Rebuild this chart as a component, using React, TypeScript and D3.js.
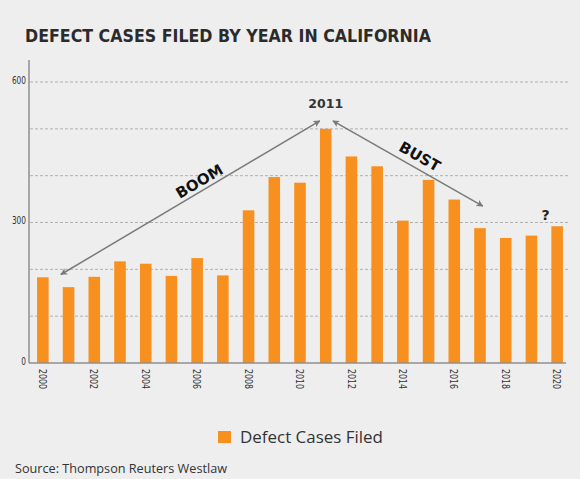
import React, { useEffect, useRef } from 'react';
import * as d3 from 'd3';

const years = d3.range(2000, 2021).map(String);
const cases = [183, 162, 184, 217, 212, 186, 224, 187, 326, 397, 385, 500, 441, 420, 304, 391, 349, 288, 267, 272, 292];
const yTicks = [0, 300, 600];
const gridValues = [100, 200, 300, 400, 500, 600];
const xTickYears = years.filter((_, i) => i % 2 === 0);

// annotation anchors, in data space (year, cases)
const boomArrow = [[2010.77, 517], [2000.7, 189]];
const bustArrow = [[2011.28, 517], [2017.11, 335]];

const W = 580;
const H = 479;
const ORANGE = '#f7901e';
const narrow = '"DejaVu Sans Condensed", "Liberation Sans Narrow", sans-serif';

const App: React.FC = () => {
  const axisRef = useRef<SVGGElement>(null);

  const x = d3.scaleBand<string>()
    .domain(years)
    .range([30, 570])
    .paddingInner(0.55)
    .paddingOuter(0.275);

  const y = d3.scaleLinear().domain([0, 600]).range([363, 82]);

  const c0 = (x('2000') || 0) + x.bandwidth() / 2;
  const c1 = (x('2020') || 0) + x.bandwidth() / 2;
  const xs = d3.scaleLinear().domain([2000, 2020]).range([c0, c1]);

  useEffect(() => {
    if (!axisRef.current) return;
    const g = d3.select(axisRef.current);
    g.selectAll('*').remove();

    // narrow digits: about 4.7px per digit
    g.append('g')
      .attr('transform', 'translate(29,0)')
      .call(d3.axisLeft(y).tickValues(yTicks).tickSize(0).tickPadding(3))
      .call(s => s.select('.domain').remove())
      .selectAll('text')
      .attr('textLength', (d: any) => String(d).length * 4.7)
      .attr('lengthAdjust', 'spacingAndGlyphs')
      .attr('dy', '0.1em')
      .style('font-family', narrow)
      .style('font-size', '11px')
      .style('fill', '#333');

    g.append('g')
      .attr('transform', 'translate(0,369)')
      .call(d3.axisBottom(x).tickValues(xTickYears).tickSize(0).tickPadding(0))
      .call(s => s.select('.domain').remove())
      .selectAll('text')
      .attr('transform', 'rotate(90)')
      .attr('x', 0)
      .attr('y', 0)
      .attr('dy', '0.35em')
      .attr('textLength', 20)
      .attr('lengthAdjust', 'spacingAndGlyphs')
      .style('text-anchor', 'start')
      .style('font-family', narrow)
      .style('font-size', '11px')
      .style('fill', '#333');
  }, []);

  const line = (pts: number[][]) => ({
    x1: xs(pts[0][0]), y1: y(pts[0][1]), x2: xs(pts[1][0]), y2: y(pts[1][1]),
  });
  const boom = line(boomArrow);
  const bust = line(bustArrow);

  return (
    <svg width={W} height={H} style={{ position: 'absolute', left: 0, top: 0, display: 'block' }}>
      <defs>
        <marker id="head" viewBox="0 0 10 10" refX="9" refY="5" markerWidth="7" markerHeight="7"
          markerUnits="userSpaceOnUse" orient="auto-start-reverse">
          <path d="M0,0 L10,5 L0,10 L2.5,5 Z" fill="#7a7a7a" />
        </marker>
      </defs>
      <rect width={W} height={H} fill="#eeeeef" />

      <text x={25} y={41.7} fontFamily='"DejaVu Sans", sans-serif' fontWeight="bold" fontSize={17}
        fill="#2b2b2b" textLength={406} lengthAdjust="spacingAndGlyphs">
        DEFECT CASES FILED BY YEAR IN CALIFORNIA
      </text>

      {/* gridlines */}
      {gridValues.map(v => (
        <line key={v} x1={30} x2={570} y1={y(v)} y2={y(v)} stroke="#b0b0b0" strokeWidth={1}
          strokeDasharray="3,2" />
      ))}

      {/* bars */}
      {cases.map((v, i) => (
        <rect key={years[i]} x={x(years[i])} y={y(v)} width={x.bandwidth()} height={y(0) - y(v)}
          fill={ORANGE} />
      ))}

      {/* axes lines */}
      <line x1={29} x2={29} y1={60} y2={y(0)} stroke="#8f8f8f" strokeWidth={1.5} />
      <line x1={29} x2={566} y1={y(0)} y2={y(0)} stroke="#8f8f8f" strokeWidth={1.5} />
      <g ref={axisRef} />

      {/* annotations */}
      <line {...boom} stroke="#7a7a7a" strokeWidth={1.5} markerStart="url(#head)" markerEnd="url(#head)" />
      <line {...bust} stroke="#7a7a7a" strokeWidth={1.5} markerStart="url(#head)" markerEnd="url(#head)" />

      <text x={xs(2011)} y={y(545)} textAnchor="middle" fontFamily='"DejaVu Sans", sans-serif'
        fontWeight="bold" fontSize={12.5} fill="#333">2011</text>
      <text transform={`translate(${xs(2006.09)},${y(388)}) rotate(-30.5)`} textAnchor="middle"
        dy="0.35em" fontFamily='"DejaVu Sans", sans-serif' fontWeight="bold" fontSize={15}
        fill="#111">BOOM</text>
      <text transform={`translate(${xs(2014.66)},${y(441)}) rotate(29.5)`} textAnchor="middle"
        dy="0.35em" fontFamily='"DejaVu Sans", sans-serif' fontWeight="bold" fontSize={15}
        fill="#111">BUST</text>
      <text x={xs(2019.55)} y={y(306)} textAnchor="middle" fontFamily='"DejaVu Sans", sans-serif'
        fontWeight="bold" fontSize={14} fill="#222">?</text>

      {/* legend */}
      <rect x={218} y={431} width={13} height={12} fill={ORANGE} />
      <text x={240} y={442.5} fontFamily='"Open Sans", sans-serif' fontSize={15.5} fill="#333"
        textLength={143} lengthAdjust="spacingAndGlyphs">Defect Cases Filed</text>

      <text x={15} y={472.7} fontFamily='"Open Sans", sans-serif' fontSize={12.5} fill="#333"
        textLength={212} lengthAdjust="spacingAndGlyphs">Source: Thompson Reuters Westlaw</text>
    </svg>
  );
};

export default App;
